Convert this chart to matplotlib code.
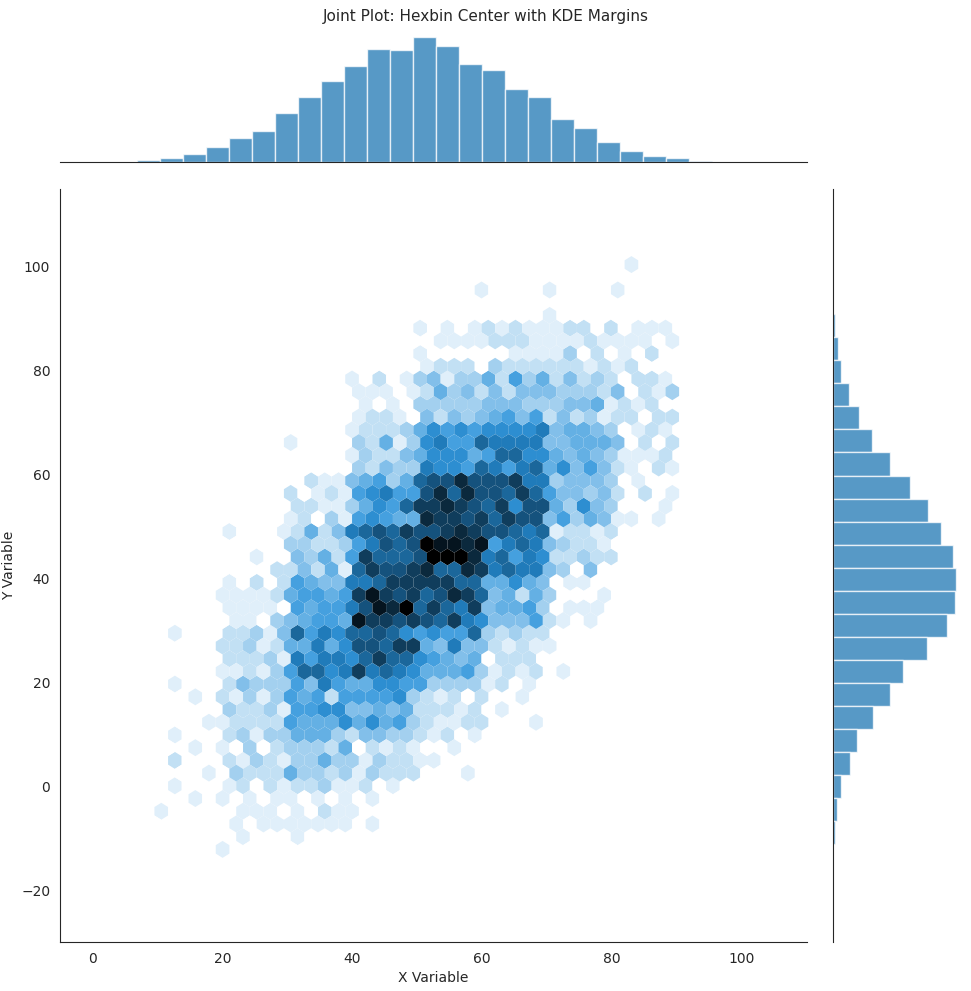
import numpy as np
import matplotlib.pyplot as plt
import seaborn as sns

sns.set_style("white")
plt.rcParams['font.size'] = 10

# coarse joint counts: columns = x cell centres, rows = y cell centres
x_centers = [5, 15, 25, 35, 45, 55, 65, 75, 85, 95, 105]
y_centers = [-25, -15, -5, 5, 15, 25, 35, 45, 55, 65, 75, 85, 95, 105]
counts = {
    5:   [1, 3, 5, 5, 3, 2, 1, 0, 0, 0, 0, 0, 0, 0],
    15:  [3, 9, 17, 22, 20, 14, 8, 3, 0, 0, 0, 0, 0, 0],
    25:  [4, 12, 30, 55, 65, 60, 40, 20, 8, 3, 0, 0, 0, 0],
    35:  [3, 12, 35, 80, 130, 160, 130, 80, 45, 15, 5, 0, 0, 0],
    45:  [0, 5, 20, 55, 120, 200, 240, 200, 140, 70, 30, 10, 0, 0],
    55:  [0, 0, 5, 20, 50, 120, 210, 260, 230, 150, 80, 30, 10, 0],
    65:  [0, 0, 0, 5, 20, 50, 110, 180, 210, 170, 95, 45, 15, 0],
    75:  [0, 0, 0, 0, 0, 8, 25, 60, 100, 110, 80, 45, 15, 5],
    85:  [0, 0, 0, 0, 0, 0, 3, 10, 25, 40, 45, 30, 15, 5],
    95:  [0, 0, 0, 0, 0, 0, 0, 2, 5, 10, 13, 11, 6, 3],
    105: [0, 0, 0, 0, 0, 0, 0, 0, 1, 3, 3, 2, 1, 0],
}

# marginal histograms
top_start, top_width = 6.9, 3.54
top_heights = [2, 4, 8, 15, 24, 31, 48, 64, 80, 95, 111, 110, 123, 114, 97,
               91, 72, 64, 42, 33, 20, 11, 6, 4, 1]
right_top, right_width = 90.9, 4.44
right_widths = [2, 5, 8, 16, 26, 39, 57, 77, 95, 108, 120, 123, 122, 114, 94,
                70, 57, 40, 24, 17, 8, 4, 2]

# spread each coarse cell's count over the cell on a quasi-regular lattice
xs, ys = [], []
g1, g2 = 0.7548776662, 0.5698402910
for cx in x_centers:
    for cy, n in zip(y_centers, counts[cx]):
        i = np.arange(n)
        xs.append(cx - 5 + 10 * ((0.5 + i * g1) % 1))
        ys.append(cy - 5 + 10 * ((0.5 + i * g2) % 1))
xs = np.concatenate(xs)
ys = np.concatenate(ys)

color = sns.color_palette()[0]
colors = [sns.set_hls_values(color, l=l) for l in np.linspace(1, 0, 12)]
cmap = sns.blend_palette(colors, as_cmap=True)

fig = plt.figure(figsize=(9.71, 9.91), dpi=100)
W, H = 971, 991
ax = fig.add_axes([60 / W, 1 - 942 / H, 747 / W, 753 / H])
axt = fig.add_axes([60 / W, 1 - 162 / H, 747 / W, 132 / H], sharex=ax)
axr = fig.add_axes([833 / W, 1 - 942 / H, 125 / W, 753 / H], sharey=ax)

ax.hexbin(xs, ys, gridsize=50, cmap=cmap, mincnt=1, edgecolors='none')
ax.set_xlim(-5, 110)
ax.set_ylim(-30, 115)
ax.set_xlabel('X Variable')
ax.set_ylabel('Y Variable')

tl = [top_start + i * top_width for i in range(len(top_heights))]
axt.bar(tl, top_heights, width=top_width, align='edge', color=color, alpha=0.75,
        edgecolor='white', linewidth=1)
rb = [right_top - (i + 1) * right_width for i in range(len(right_widths))]
axr.barh(rb, right_widths, height=right_width, align='edge', color=color, alpha=0.75,
         edgecolor='white', linewidth=1)

for a in (ax, axt, axr):
    for s in ('top', 'right'):
        a.spines[s].set_visible(False)
axt.spines['left'].set_visible(False)
axr.spines['bottom'].set_visible(False)
axt.tick_params(labelbottom=False, left=False, labelleft=False)
axr.tick_params(labelleft=False, bottom=False, labelbottom=False)
axt.set_ylim(0, 130)
axr.set_xlim(0, 125)

fig.suptitle('Joint Plot: Hexbin Center with KDE Margins', y=1 - 9 / H, fontsize=11)
fig.savefig('out.png', dpi=100)
